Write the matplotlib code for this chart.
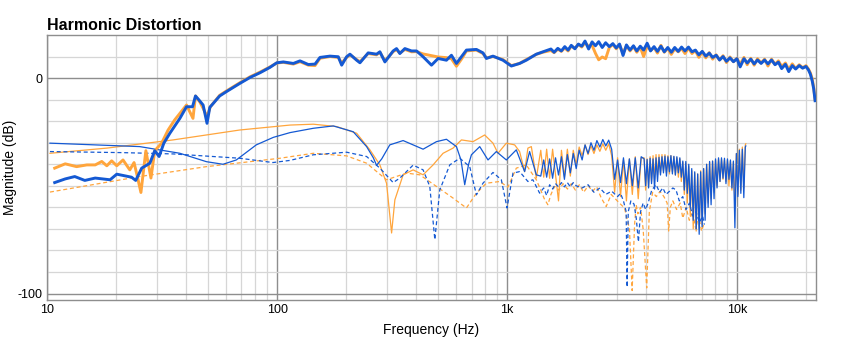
import matplotlib
matplotlib.use("Agg")
import matplotlib.pyplot as plt
from matplotlib.ticker import FixedLocator, FuncFormatter, NullFormatter

plt.rcParams['font.family'] = ['Liberation Sans', 'DejaVu Sans']

# ---------------- data (Hz, dB) ----------------
# fundamental, blue
fund_blue_f = [10.8, 12.0, 13.2, 14.6, 16.2, 18.8, 20.1, 23.3, 24.3, 25.8, 28.0, 29.4, 30.7, 32.2,
               34.2, 37.8, 40.4, 42.9, 44.2, 45.8, 47.7, 49.6, 51.0, 56.3, 60.2, 68.8, 76.3, 84.4,
               93.2, 99.7, 106.5, 117.7, 125.8, 136.7, 146.2, 153.7, 169.8, 184.5, 190.9, 200.6,
               207.4, 221.7, 229.2, 248.9, 270.7, 279.8, 294.2, 319.6, 330.6, 341.7, 359.3, 384.1,
               403.7, 431.2, 469, 501, 544.7, 572.6, 602, 665.3, 735.3, 785.2, 812.4, 867.8, 959,
               1043, 1133, 1211, 1339, 1430,
               1550, 1600, 1660, 1720, 1780, 1840, 1900, 1970, 2040, 2110, 2180, 2260, 2340, 2420,
               2500, 2590, 2680, 2780, 2880, 2980, 3080, 3190, 3300, 3420, 3540, 3660, 3790, 3920,
               4060, 4200, 4350, 4500, 4660, 4820, 4990, 5170, 5350, 5540, 5730, 5930, 6140, 6360,
               6580, 6810, 7050, 7300, 7560, 7820, 8100, 8380, 8680, 8980, 9300, 9630, 9970, 10300,
               10700, 11050, 11450, 11850, 12250, 12700, 13150, 13600, 14100, 14600, 15100, 15600,
               16200, 16750, 17350, 17950, 18600, 19250, 19900, 20400, 20800, 21200, 21500, 21800]
fund_blue_db = [-48.5, -46.8, -45.7, -47.5, -46.4, -47.2, -44.6, -46.0, -47.5, -41.8, -39.5, -33.7,
                -36.4, -30.2, -25.6, -18.7, -13.3, -13.3, -8.3, -10.2, -12.5, -21.0, -13.6, -8.3,
                -6.3, -2.5, 0.3, 2.5, 5.0, 7.1, 7.5, 6.8, 8.0, 6.3, 6.5, 9.6, 10.2, 9.9, 6.0, 9.9,
                11.1, 8.3, 7.1, 11.7, 11.1, 12.2, 7.5, 12.6, 13.7, 11.4, 13.7, 12.6, 12.6, 9.9, 6.0,
                9.1, 8.3, 10.6, 6.8, 13.0, 13.3, 11.7, 9.1, 10.2, 8.3, 5.6, 6.8, 8.3, 11.1, 12.2,
                13.5, 12.0, 13.8, 12.6, 14.6, 13.0, 15.2, 13.6, 15.8, 14.8, 17.2, 13.5, 16.8, 15.0,
                16.9, 14.2, 16.4, 14.6, 16.0, 14.0, 15.8, 10.5, 15.4, 13.0, 15.0, 12.6, 14.8, 13.0,
                16.2, 12.6, 14.6, 12.4, 14.8, 12.2, 14.2, 12.0, 14.2, 12.4, 14.4, 12.6, 14.4, 12.2,
                13.0, 10.8, 12.4, 10.2, 11.6, 9.6, 10.6, 8.4, 10.0, 7.8, 9.4, 7.6, 9.0, 5.2,
                9.0, 7.0, 8.8, 6.6, 8.4, 6.8, 8.4, 6.6, 8.4, 6.2, 7.4, 4.4,
                6.4, 3.0, 5.8, 4.2, 5.8, 4.6, 5.4, 3.8, 1.8, -1.5, -5.0, -10.5]

# fundamental, orange
fund_orange_f = [10.8, 12.0, 13.45, 14.9, 16.2, 17.3, 18.2, 19.1, 20.1, 21.4, 22.9, 23.9, 24.7,
                 25.6, 26.9, 28.3, 29.4, 31.5, 33.6, 35.9, 40.4, 43.1, 44.2, 46.1, 47.7, 49.6, 51.3,
                 56.3, 60.2, 68.8, 76.3, 84.4, 93.2, 99.7, 106.5, 117.7, 125.8, 136.7, 146.2, 153.7,
                 169.8, 184.5, 190.9, 200.6, 207.4, 221.7, 229.2, 248.9, 270.7, 279.8, 294.2, 319.6,
                 330.6, 341.7, 359.3, 384.1, 403.7, 431.2, 469, 501, 544.7, 572.6, 602, 635, 665.3,
                 735.3, 785.2, 812.4, 867.8, 959, 1043, 1133, 1211, 1339, 1430,
                 1550, 1600, 1660, 1720, 1780, 1840, 1900, 1970, 2040, 2110, 2180, 2260, 2340, 2420,
                 2500, 2590, 2680, 2780, 2880, 2980, 3080, 3190, 3300, 3420, 3540, 3660, 3790, 3920,
                 4060, 4200, 4350, 4500, 4660, 4820, 4990, 5170, 5350, 5540, 5730, 5930, 6140, 6360,
                 6580, 6810, 7050, 7300, 7560, 7820, 8100, 8380, 8680, 8980, 9300, 9630, 9970, 10300,
                 10700, 11050, 11450, 11850, 12250, 12700, 13150, 13600, 14100, 14600, 15100, 15600,
                 16200, 16750, 17350, 17950, 18600, 19250, 19900, 20400, 20800, 21200, 21500, 21800]
fund_orange_db = [-41.8, -39.8, -41.1, -40.3, -40.3, -38.7, -40.7, -38.4, -40.7, -38.0, -42.6, -39.2,
                  -45.7, -53.1, -33.7, -46.4, -33.7, -30.2, -24.1, -19.4, -12.5, -18.7, -8.3, -11.0,
                  -14.0, -17.9, -13.3,
                  -8.0, -6.0, -2.2, 0.6, 2.8, 5.2, 7.0, 7.3, 6.5, 7.6, 6.0, 5.8, 9.2, 10.0, 9.6, 7.0,
                  9.6, 10.8, 8.6, 7.6, 11.4, 10.8, 12.0, 8.0, 12.3, 13.2, 11.6, 13.3, 12.2, 12.3,
                  11.2, 10.4, 9.8, 9.5, 9.0, 5.5, 9.0, 12.6, 13.0, 11.4, 9.4, 10.0, 8.6, 5.8, 6.8,
                  8.6, 11.0, 12.0,
                  12.8, 11.8, 13.4, 12.4, 14.0, 12.6, 14.8, 13.8, 15.6, 14.4, 16.4, 14.8, 15.2, 11.5,
                  8.5, 9.8, 9.0, 14.2, 15.6, 13.6, 15.4, 11.5, 15.0, 12.6, 14.6, 12.0, 14.4, 10.0,
                  15.0, 12.8, 14.2, 11.6, 15.2, 12.0, 13.8, 11.0, 13.6, 12.2, 13.8, 11.4, 14.0, 11.4,
                  12.8, 9.6, 12.2, 9.4, 11.8, 8.8, 10.8, 8.4, 10.4, 7.2, 9.8, 7.6, 9.2, 6.4,
                  9.6, 6.2, 9.2, 6.0, 9.0, 7.0, 8.8, 5.6, 8.8, 6.4, 8.0, 5.4,
                  7.0, 4.0, 6.6, 4.4, 6.2, 4.8, 5.8, 4.2, 2.4, -0.5, -4.5, -10.0]

# frequency grid of the comb region of the solid harmonic curves (coarse part, then fine part)
comb_f = [1400, 1442, 1485, 1530, 1576, 1623, 1672, 1722, 1774, 1827, 1882, 1938, 1996, 2056,
          2118, 2181, 2247, 2314, 2384, 2455, 2529, 2605, 2683, 2763, 2846, 2932, 3020, 3110,
          3203, 3299, 3398, 3500, 3605, 3713, 3825,
          3939, 3998, 4058, 4119, 4181, 4243, 4307, 4372, 4437, 4504, 4571, 4640, 4709, 4780,
          4852, 4925, 4999, 5074, 5150, 5227, 5305, 5385, 5466, 5548, 5631, 5715, 5801, 5888,
          5977, 6066, 6157, 6250, 6344, 6439, 6535, 6633, 6733, 6834, 6936, 7040, 7146, 7253,
          7362, 7473, 7585, 7699, 7814, 7931, 8050, 8171, 8294, 8418, 8544, 8673, 8803, 8935,
          9069, 9205, 9343, 9483, 9625, 9770, 9916, 10065, 10216, 10369, 10525, 10683, 10843,
          10900]

# harmonic, blue solid
h_blue_f = [10.3, 25.3, 37.8, 49.3, 58.2, 66.5, 81.2, 96.4, 113.9, 143.7, 175.5, 214.3, 245,
            262, 270.7, 285, 309, 353.1, 431.2, 493.0, 544.7, 602, 630, 654, 680, 699.4, 760,
            825.6, 897.6, 992, 1096, 1191, 1252, 1339] + comb_f
h_blue_db = [-30.2, -31.8, -34.9, -38.8, -40.0, -38.0, -31.0, -27.5, -25.3, -23.3, -22.2, -24.9,
             -31.8, -37.0, -40.5, -37.5, -31.0, -29.0, -33.0, -29.5, -28.4, -31.8, -38.0, -49.5,
             -40.0, -35.6, -31.8, -38.0, -34.1, -38.0, -33.3, -43.4, -34.1, -44.9,
             -45.5, -38.0, -46.0, -37.5, -46.5, -37.0, -45.0, -36.5, -47.0, -35.5, -44.0, -35.0,
             -42.0, -33.5, -38.0, -31.0, -35.0, -30.0, -33.5, -29.0, -32.0, -28.5, -31.5, -28.8,
             -33.0, -47.0, -38.0, -48.5, -37.0, -49.0, -37.5, -50.0, -37.0, -51.0, -36.5,
             -37.5, -50.0, -37.8, -51.0, -37.2, -49.0, -37.5, -51.5, -37.0, -48.0, -36.8, -45.0,
             -36.5, -44.0, -36.2, -45.5, -36.5, -43.5, -36.0, -44.5, -36.3, -45.0, -36.5, -44.0,
             -37.0, -46.0, -38.5, -52.0, -38.7, -53.5, -40.0, -60.0, -42.0, -66.0, -43.5, -70.0,
             -44.5, -72.5, -43.5, -69.0, -42.0, -66.0, -40.0, -60.0, -38.7, -58.8, -38.5, -56.0,
             -37.5, -51.0, -37.0, -48.0, -37.0, -46.5, -37.2, -49.0, -37.5, -47.0, -38.0, -51.0,
             -38.5, -69.5, -35.0, -55.0, -33.5, -53.5, -33.0, -55.5, -32.0, -31.5]

# harmonic, orange solid
h_orange_f = [10.3, 18.2, 35.3, 68.8, 113.9, 143.7, 181.5, 221.7, 253.2, 279.8, 299.1, 314.6,
              325.1, 353.1, 390.2, 431.2, 476.5, 526.6, 582, 632.9, 710.6, 798.7, 867.8, 912.4,
              992, 1078, 1133, 1191, 1231, 1274, 1339] + comb_f
h_orange_db = [-34.9, -32.5, -28.7, -24.1, -21.8, -21.4, -22.5, -25.6, -33.3, -40.3, -48.8, -71.9,
               -56.5, -44.9, -42.6, -44.9, -40.3, -34.9, -32.5, -28.7, -29.5, -26.4, -30.2, -34.9,
               -30.2, -31.0, -34.1, -43.4, -32.5, -31.8, -46.4,
               -33.5, -46.0, -33.0, -46.5, -33.0, -45.0, -57.0, -33.5, -46.0, -33.0, -45.5, -33.5,
               -40.0, -32.0, -36.0, -31.0, -35.5, -31.5, -35.0, -31.0, -34.0, -30.5, -33.5, -30.5,
               -36.0, -53.0, -37.0, -55.0, -38.0, -57.0, -37.5, -54.0, -36.5, -56.0, -37.0,
               -37.0, -52.0, -37.5, -50.0, -36.5, -48.0, -36.0, -47.0, -35.5, -45.0, -35.5, -44.0,
               -35.5, -43.0, -35.5, -44.0, -36.0, -44.5, -36.0, -43.5, -36.5, -45.0, -37.0, -46.0,
               -37.5, -48.0, -39.0, -54.0, -39.5, -58.0, -41.0, -64.0, -43.0, -70.0, -44.0, -71.0,
               -44.5, -70.0, -43.0, -68.0, -42.0, -63.0, -40.0, -58.0, -39.0, -56.0, -38.5, -53.0,
               -38.0, -50.0, -37.5, -48.0, -37.5, -47.0, -38.0, -48.0, -38.0, -50.0, -38.5, -52.0,
               -39.0, -58.0, -35.0, -54.0, -33.0, -52.0, -32.0, -51.0, -31.0, -30.5]

# harmonic, blue dashed
hd_blue_f = [10.3, 21.4, 35.3, 68.8, 95.9, 113.9, 143.7, 200.6, 245, 279.8, 319.6, 341.7, 390.2,
             431.2, 461.1, 484.9, 509.6, 563.1, 622.2, 687.6, 735.3, 785.2, 867.8, 943.6, 999,
             1060, 1133, 1231, 1294, 1384, 1442, 1485, 1530, 1576, 1623, 1672, 1722, 1774, 1827,
             1882, 1938, 1996, 2118, 2247, 2384, 2529, 2683, 2846, 3020, 3110, 3203, 3290, 3323,
             3360, 3450, 3560, 3640, 3720, 3800, 3900, 4000, 4100, 4250, 4441, 4600, 4750, 4900,
             5070, 5250, 5420, 5600, 5800, 5990, 6200, 6400, 6620, 6850, 7070, 7200]
hd_blue_db = [-34.1, -34.6, -35.2, -37.2, -39.2, -38.2, -35.6, -34.4, -36.4, -41.8, -48.5, -46.4,
              -40.4, -42.6, -50.3, -75.0, -51.9, -40.3, -37.2, -41.1, -54.2, -48.8, -43.8, -47.2,
              -60.3, -44.1, -43.4, -48.0, -47.2, -53.4, -51.0, -54.5, -49.5, -51.5, -49.0, -50.5,
              -48.5, -50.5, -48.5, -50.5, -48.5, -50.0, -51.0, -49.5, -53.0, -51.0, -54.0, -52.5,
              -55.0, -53.5, -57.0, -62.0, -97.0, -62.0, -57.0, -58.5, -65.0, -76.0, -62.0, -58.0,
              -61.0, -58.0, -52.0, -49.5, -53.0, -51.0, -54.0, -52.6, -51.0, -51.9, -57.0, -55.0,
              -61.0, -58.0, -64.0, -62.0, -67.0, -64.0, -68.0]

# harmonic, orange dashed
hd_orange_f = [10.3, 25.3, 49.3, 103, 143.7, 200.6, 245, 299.1, 365.3, 417.3, 493, 582, 665.3,
               735.3, 812.4, 927.8, 1008, 1096, 1211, 1339, 1400, 1450, 1503, 1550, 1607, 1680,
               1750, 1830, 1900, 1980, 2060, 2150, 2250, 2350, 2450, 2563, 2694, 2834, 2950, 3075,
               3237, 3400, 3494, 3580, 3637, 3700, 3800, 3900, 4042, 4149, 4290, 4450, 4620, 4800,
               4960, 5035, 5120, 5250, 5450, 5650, 5800, 6000, 6190, 6400, 6600, 6800, 7000, 7200]
hd_orange_db = [-52.9, -45.7, -41.1, -37.2, -34.9, -36.1, -39.5, -47.2, -44.1, -44.9, -50.3, -55.7,
                -60.3, -53.4, -48.8, -48.0, -50.6, -41.8, -40.3, -47.2, -52.0, -56.0, -58.8, -54.0,
                -50.3, -52.0, -49.0, -51.5, -49.0, -52.0, -49.5, -53.0, -50.0, -52.5, -50.5, -55.6,
                -59.6, -54.0, -56.0, -58.0, -60.3, -70.0, -98.6, -68.0, -58.8, -63.0, -60.0, -70.0,
                -97.4, -62.0, -53.0, -55.0, -52.6, -55.0, -58.0, -71.0, -60.0, -57.0, -61.0, -58.0,
                -65.0, -60.0, -66.0, -62.0, -70.0, -64.0, -71.0, -67.0]

x_major = [10, 100, 1000, 10000]
x_major_labels = ["10", "100", "1k", "10k"]
y_major = [0, -100]
y_major_labels = ["0", "-100"]

BLUE = "#1459d3"
ORANGE = "#ffa53c"

# ---------------- figure ----------------
W, H = 847, 340
fig = plt.figure(figsize=(W / 100, H / 100), dpi=100)
L, R, T, B = 47, 816, 35, 300
ax = fig.add_axes([L / W, 1 - B / H, (R - L) / W, (B - T) / H])

ax.set_xscale("log")
ax.set_xlim(10, 22000)
ax.set_ylim(-103, 20)

ax.plot(hd_orange_f, hd_orange_db, color=ORANGE, lw=0.9, dashes=(3.2, 2.2), zorder=3)
ax.plot(h_orange_f, h_orange_db, color=ORANGE, lw=0.9, zorder=3)
ax.plot(hd_blue_f, hd_blue_db, color=BLUE, lw=0.9, dashes=(3.2, 2.2), zorder=4)
ax.plot(h_blue_f, h_blue_db, color=BLUE, lw=0.9, zorder=4)
ax.plot(fund_orange_f, fund_orange_db, color=ORANGE, lw=2.1, zorder=5, solid_joinstyle="round")
ax.plot(fund_blue_f, fund_blue_db, color=BLUE, lw=2.1, zorder=6, solid_joinstyle="round")

# grid
minor_x = [m * d for d in (10, 100, 1000, 10000) for m in range(2, 10) if m * d < 22000]
ax.xaxis.set_major_locator(FixedLocator(x_major))
ax.xaxis.set_minor_locator(FixedLocator(minor_x))
ax.xaxis.set_major_formatter(FuncFormatter(lambda v, p: x_major_labels[x_major.index(v)] if v in x_major else ""))
ax.xaxis.set_minor_formatter(NullFormatter())
ax.yaxis.set_major_locator(FixedLocator(y_major))
ax.yaxis.set_minor_locator(FixedLocator([v for v in range(-90, 20, 10) if v != 0]))
ax.yaxis.set_major_formatter(FuncFormatter(lambda v, p: y_major_labels[y_major.index(v)] if v in y_major else ""))

ax.grid(True, which="major", color="#8e8e8e", lw=1.0, zorder=1)
ax.grid(True, which="minor", color="#d6d6d6", lw=0.9, zorder=1)
ax.set_axisbelow(True)
ax.tick_params(which="both", length=0)
ax.tick_params(axis="x", pad=3, labelsize=9)
ax.tick_params(axis="y", pad=3, labelsize=9)
for s in ax.spines.values():
    s.set_color("#8e8e8e")
    s.set_linewidth(1.0)

ax.set_xlabel("Frequency (Hz)", fontsize=10)
ax.xaxis.set_label_coords(0.5, -0.087)
ax.set_ylabel("Magnitude (dB)", fontsize=10)
ax.yaxis.set_label_coords((17 - L) / (R - L), 0.5)

fig.text(L / W, 1 - 30.5 / H, "Harmonic Distortion", fontsize=11.5, fontweight="bold",
         ha="left", va="baseline")

fig.savefig("out.png", dpi=100, facecolor="white")
